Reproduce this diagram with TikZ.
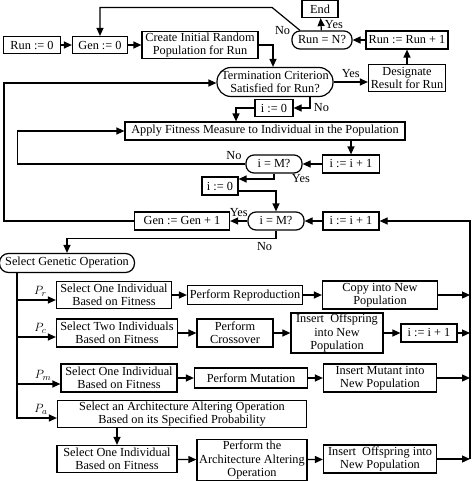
\documentclass[tikz,border=0pt]{standalone}
\usepackage{fontspec}
\setmainfont{Liberation Serif}
\usetikzlibrary{arrows.meta, positioning}

\begin{document}
\begin{tikzpicture}[
    x=1pt, y=-1pt,
    font=\fontsize{12.3}{13.3}\selectfont,
    line width=1.2pt,
    process/.style = {rectangle, draw, align=center, inner sep=1pt},
    decision/.style = {rectangle, draw, rounded corners=8pt, align=center, inner sep=1pt},
    >={Triangle[length=8pt, width=7pt]}]

    \useasboundingbox (0,0) rectangle (474,482);

    % outer loop over runs
    \node[process, minimum width=36pt, minimum height=17pt] (stop) at (320,9) {End};
    \node[decision, minimum width=60pt, minimum height=18pt] (runtest) at (322,40) {Run = N?};
    \node[process, minimum width=82pt, minimum height=18pt] (runinc) at (407,40) {Run := Run + 1};
    \node[process, minimum width=77pt, minimum height=27pt] (designate) at (407,78) {Designate\\Result for Run};
    \node[process, minimum width=57pt, minimum height=17pt] (runzero) at (32,45) {Run := 0};
    \node[process, minimum width=55pt, minimum height=17pt] (genzero) at (100,45) {Gen := 0};
    \node[process, minimum width=116pt, minimum height=27pt] (create) at (200,45) {Create Initial Random\\Population for Run};
    \node[decision, rounded corners=14pt, minimum width=116pt, minimum height=29pt] (term) at (275,82) {Termination Criterion\\Satisfied for Run?};

    % fitness loop
    \node[process, minimum width=38pt, minimum height=17pt] (izeroa) at (274,108) {i := 0};
    \node[process, minimum width=280pt, minimum height=18pt] (apply) at (265,131) {Apply Fitness Measure to Individual in the Population};
    \node[process, minimum width=57pt, minimum height=18pt] (iinca) at (351,164) {i := i + 1};
    \node[decision, minimum width=56pt, minimum height=18pt] (itesta) at (274,164) {i = M?};
    \node[process, minimum width=36pt, minimum height=18pt] (izerob) at (220,186) {i := 0};

    % generation loop
    \node[decision, minimum width=56pt, minimum height=18pt] (itestb) at (276,221) {i = M?};
    \node[process, minimum width=56pt, minimum height=18pt] (iincb) at (351,221) {i := i + 1};
    \node[process, minimum width=95pt, minimum height=18pt] (geninc) at (182,221) {Gen := Gen + 1};
    \node[decision, rounded corners=9pt, minimum width=135pt, minimum height=19pt] (selop) at (67,263) {Select Genetic Operation};

    % genetic operations
    \node[process, minimum width=115pt, minimum height=27pt] (selr) at (114,295) {Select One Individual\\Based on Fitness};
    \node[process, minimum width=115pt, minimum height=19pt] (repro) at (245,295) {Perform Reproduction};
    \node[process, minimum width=115pt, minimum height=28pt] (copy) at (380,295) {Copy into New\\Population};

    \node[process, minimum width=121pt, minimum height=28pt] (selc) at (117,333) {Select Two Individuals\\Based on Fitness};
    \node[process, minimum width=76pt, minimum height=28pt] (cross) at (235,333) {Perform\\Crossover};
    \node[process, minimum width=92pt, minimum height=40pt] (insc) at (337,333) {Insert\ \ Offspring\\into New\\Population};
    \node[process, minimum width=56pt, minimum height=18pt] (iincc) at (429,333) {i := i + 1};

    \node[process, minimum width=116pt, minimum height=28pt] (selm) at (119,378) {Select One Individual\\Based on Fitness};
    \node[process, minimum width=113pt, minimum height=20pt] (mutate) at (251,378) {Perform Mutation};
    \node[process, minimum width=113pt, minimum height=28pt] (insm) at (380,378) {Insert Mutant into\\New Population};

    \node[process, minimum width=249pt, minimum height=27pt] (selarch) at (182,414) {Select an Architecture Altering Operation\\Based on its Specified Probability};
    \node[process, minimum width=120pt, minimum height=27pt] (sela) at (117,459) {Select One Individual\\Based on Fitness};
    \node[process, minimum width=110pt, minimum height=41pt] (arch) at (252,460) {Perform the\\Architecture Altering\\Operation};
    \node[process, minimum width=113pt, minimum height=28pt] (insa) at (380,459) {Insert\ \ Offspring into\\New Population};

    \coordinate (trunk) at (17,0);
    \coordinate (back) at (470,0);

    \draw[->] (runzero) -- (genzero);
    \draw[->] (genzero) -- (create);
    \draw[->] (create.east) -| ([xshift=-2pt]term.north);
    \draw[->] (term.east) -- node[above] {Yes} (term.east -| designate.west);
    \draw[->] (designate) -- (runinc);
    \draw[->] (runinc) -- (runtest);
    \draw[->] (runtest) -- node[right] {Yes} (stop);
    \draw[->] ([xshift=-22pt]runtest.north) node[left=6pt] {No} -- ++(-28,-23) -| (genzero.north);
    \draw[->] ([xshift=35pt]term.south) |- node[pos=0.5, right] {No} (izeroa.east);
    \draw[->] (izeroa.west) -| ([xshift=-29pt]apply.north);
    \draw[->] (apply.south -| iinca.north) -- (iinca.north);
    \draw[->] (iinca) -- (itesta);
    \draw[->] (itesta.west) -- node[pos=0.05, above] {No} ++(-228,0) |- (apply.west);
    \draw[->] (itesta.south) |- node[pos=0.5, right=14pt] {Yes} ([yshift=7pt]izerob.east);
    \draw[->] ([yshift=-5pt]izerob.east) -| (itestb.north);
    \draw[->] (iincb) -- (itestb);
    \draw[->] (itestb) -- node[above] {Yes} (geninc);
    \draw[->] (geninc.west) -- ++(-130,0) |- ([yshift=-1pt]term.west);
    \draw[->] (itestb.south) -- ++(0,8) node[below left] {No} -| (selop.north);

    % branches of the operation choice
    \draw[->] (selop.south -| trunk) |- node[pos=0.8, above] {$P_r$} ([yshift=-5pt]selr.west);
    \draw[->] (selop.south -| trunk) |- node[pos=0.8, above] {$P_c$} ([yshift=-4pt]selc.west);
    \draw[->] (selop.south -| trunk) |- node[pos=0.8, above] {$P_m$} ([yshift=-6pt]selm.west);
    \draw[->] (selop.south -| trunk) |- node[pos=0.8, above] {$P_a$} ([yshift=-4pt]selarch.west);

    \draw[->] (selr) -- (repro);
    \draw[->] (repro) -- (copy);
    \draw[->] (selc) -- (cross);
    \draw[->] (cross) -- (insc);
    \draw[->] (insc) -- (iincc);
    \draw[->] (selm) -- (mutate);
    \draw[->] (mutate) -- (insm);
    \draw[->] (selarch.south -| sela.north) -- (sela.north);
    \draw[->] (sela) -- (arch);
    \draw[->] (arch) -- (insa);

    % back to the next individual
    \draw[->] (copy.east) -- (copy.east -| back);
    \draw[->] (iincc.east) -- (iincc.east -| back);
    \draw[->] (insm.east) -- (insm.east -| back);
    \draw[->] (insa.east) -- (insa.east -| back);
    \draw[->] (insa.east -| back) |- (iincb.east);
\end{tikzpicture}
\end{document}
